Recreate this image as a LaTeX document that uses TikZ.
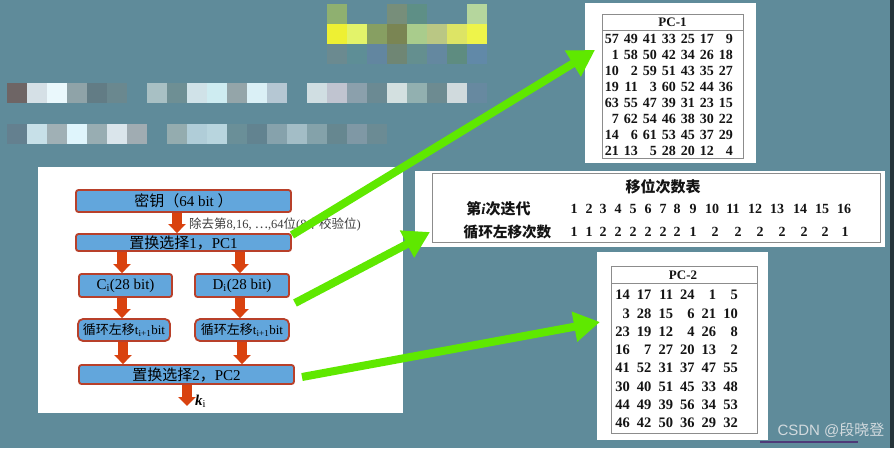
\documentclass[tikz,border=0pt]{standalone}
\usepackage{fontspec}
\setmainfont{Liberation Serif}
\newfontfamily\cjk{Noto Sans CJK SC}
\newfontfamily\wmsans{Liberation Sans}
\usetikzlibrary{arrows.meta,calc}
\definecolor{bg}{HTML}{5F8B9A}
\definecolor{boxfill}{HTML}{62A6DC}
\definecolor{boxdraw}{HTML}{B8402A}
\definecolor{redarr}{HTML}{D9420F}
\definecolor{grn}{HTML}{5FE800}
\definecolor{tblline}{HTML}{8C8C8C}
\definecolor{wm}{HTML}{D2DADE}
\definecolor{wmline}{HTML}{4E3A78}
\definecolor{darkedge}{HTML}{26343A}
\newcommand\mblk[3]{\definecolor{tmpc}{HTML}{#3}\fill[tmpc] (#1,#2) rectangle ++(20,20);}
\begin{document}
\begin{tikzpicture}[x=1pt,y=-1pt,
  flowbox/.style={draw=boxdraw, line width=1.8pt, fill=boxfill, rounded corners=2.5pt, inner sep=0pt,
    font=\fontsize{15}{18}\selectfont},
  shiftbox/.style={flowbox, rounded corners=5pt, font=\fontsize{13}{16}\selectfont},
  redarrow/.style={draw=redarr, line width=10pt, -{Triangle[width=17pt,length=9pt]}},
  greenarrow/.style={draw=grn, line width=8pt, -{Triangle[width=29pt,length=26pt]}},
  num/.style={inner sep=0pt, font=\fontsize{14}{16}\selectfont\bfseries, text=black!92},
  snum/.style={inner sep=0pt, font=\fontsize{14}{16}\selectfont\bfseries, text=black!92},
  hdr/.style={inner sep=0pt, font=\fontsize{13}{16}\selectfont\bfseries, text=black!92},
  cjklabel/.style={inner sep=0pt, font=\fontsize{15}{18}\selectfont\cjk\bfseries, text=black!92},
  panel/.style={fill=white, draw=none},
  tbl/.style={draw=tblline, line width=1pt}
]
\useasboundingbox (0,0) rectangle (894,448);
\fill[bg] (0,0) rectangle (894,448);
\fill[darkedge] (890,0) rectangle (894,448);

% mosaic blocks (redacted text)
\mblk{327}{4}{8FB070}\mblk{387}{4}{778E7A}\mblk{407}{4}{5E8F86}\mblk{467}{4}{B5D69D}
\mblk{327}{24}{EEF033}\mblk{347}{24}{E3F36A}\mblk{367}{24}{879F62}\mblk{387}{24}{7A8553}
\mblk{407}{24}{A9CC8C}\mblk{427}{24}{BAC784}\mblk{447}{24}{DDE465}\mblk{467}{24}{EEF44A}
\mblk{327}{44}{6B8A90}\mblk{347}{44}{5E8E96}\mblk{367}{44}{6286A0}\mblk{387}{44}{6F8674}
\mblk{407}{44}{648F8F}\mblk{427}{44}{6488A0}\mblk{447}{44}{5E8C80}\mblk{467}{44}{6189A8}
\mblk{7}{83}{6E6565}\mblk{27}{83}{D5E0E6}\mblk{47}{83}{EAF8FC}\mblk{67}{83}{8FA3A8}
\mblk{87}{83}{627C85}\mblk{107}{83}{6A888F}\mblk{147}{83}{A8C0C4}\mblk{167}{83}{6E8F94}
\mblk{187}{83}{D0E2E8}\mblk{207}{83}{CEECF1}\mblk{227}{83}{94A5A9}\mblk{247}{83}{DAF0F6}
\mblk{267}{83}{B5C7D3}\mblk{307}{83}{D0DEE2}\mblk{327}{83}{C0C4D0}\mblk{347}{83}{8BA0AC}
\mblk{367}{83}{6B8A93}\mblk{387}{83}{D3E0E0}\mblk{407}{83}{92B0B0}\mblk{427}{83}{6D8B91}
\mblk{447}{83}{D0DADD}\mblk{467}{83}{6789A0}
\mblk{7}{124}{64808F}\mblk{27}{124}{C7E0E8}\mblk{47}{124}{A0B0B5}\mblk{67}{124}{DFF5FC}
\mblk{87}{124}{98ADB2}\mblk{107}{124}{DAE5EB}\mblk{127}{124}{A0ACB2}\mblk{167}{124}{94ACAF}
\mblk{187}{124}{B0CDD8}\mblk{207}{124}{B8D5DE}\mblk{227}{124}{6A8F98}\mblk{247}{124}{628390}
\mblk{267}{124}{86A2AC}\mblk{287}{124}{A3BDC6}\mblk{307}{124}{84A2AA}\mblk{327}{124}{668790}
\mblk{347}{124}{7F98A5}\mblk{367}{124}{6B8B94}

% white panels
\fill[panel] (38,167) rectangle (403,413);
\fill[panel] (585,3) rectangle (756,163);
\fill[panel] (415,171) rectangle (885,247);
\fill[panel] (597,252) rectangle (768,440);

% flowchart
\node[flowbox, minimum width=215pt, minimum height=22pt] (key) at (183.5,201) {{\cjk 密钥（}64 bit {\cjk ）}};
\node[flowbox, minimum width=215pt, minimum height=17pt] (pc1) at (183.5,242.5) {{\cjk 置换选择}1{\cjk ，}PC1};
\node[flowbox, minimum width=93pt, minimum height=23pt] (cbox) at (125.5,285.5) {C\textsubscript{i}(28 bit)};
\node[flowbox, minimum width=94pt, minimum height=23pt] (dbox) at (242,285.5) {D\textsubscript{i}(28 bit)};
\node[shiftbox, minimum width=92pt, minimum height=22pt] (sl) at (124,330) {{\cjk 循环左移}t\textsubscript{i+1}bit};
\node[shiftbox, minimum width=94pt, minimum height=22pt] (sr) at (242,330) {{\cjk 循环左移}t\textsubscript{i+1}bit};
\node[flowbox, minimum width=215pt, minimum height=19pt] (pc2) at (186.5,374.5) {{\cjk 置换选择}2{\cjk ，}PC2};
\node[inner sep=0pt, anchor=west, font=\fontsize{15}{18}\selectfont] (ki) at (195,401) {\textbf{\textit{k}}\textsubscript{i}};
\node[inner sep=0pt, anchor=west, text=black!75, font=\fontsize{12.5}{15}\selectfont] (note) at (189,225)
  {{\cjk 除去第}8,16, {\cjk …},64{\cjk 位}(8{\cjk 个校验位})};

\coordinate (xa) at (177,0);
\coordinate (xl) at (122,0);
\coordinate (xr) at (240,0);
\coordinate (xl2) at (123,0);
\coordinate (xr2) at (242,0);
\coordinate (xk) at (187,0);
\coordinate (kend) at (187,406);
\draw[redarrow] (key.south -| xa) -- (pc1.north -| xa);
\draw[redarrow] (pc1.south -| xl) -- (cbox.north -| xl);
\draw[redarrow] (pc1.south -| xr) -- (dbox.north -| xr);
\draw[redarrow] (cbox.south -| xl) -- (sl.north -| xl);
\draw[redarrow] (dbox.south -| xr) -- (sr.north -| xr);
\draw[redarrow] (sl.south -| xl2) -- (pc2.north -| xl2);
\draw[redarrow] (sr.south -| xr2) -- (pc2.north -| xr2);
\draw[redarrow] (pc2.south -| xk) -- (kend);

% PC-1 table
\draw[tbl] (602,14) rectangle (743,158);
\draw[tbl] (602,30) -- (743,30);
\node[hdr] (pc1title) at (672.5,22.5) {PC-1};
\foreach \row [count=\r] in {
  {57,49,41,33,25,17,9},{1,58,50,42,34,26,18},{10,2,59,51,43,35,27},{19,11,3,60,52,44,36},
  {63,55,47,39,31,23,15},{7,62,54,46,38,30,22},{14,6,61,53,45,37,29},{21,13,5,28,20,12,4}}{
  \foreach \v [count=\c] in \row {
    \node[num, anchor=east] (pa-\r-\c) at ({619+19*(\c-1)},{39+16*(\r-1)}) {\v};
  }
}

% shift table
\draw[tbl] (432,173) rectangle (880,242);
\node[cjklabel] (stitle) at (663,187) {移位次数表};
\node[cjklabel] (slab1) at (498.5,209) {第{\fontspec{Liberation Serif}\itshape\bfseries i}次迭代};
\node[cjklabel, font=\fontsize{14.6}{18}\selectfont\cjk\bfseries] (slab2) at (507.5,232) {循环左移次数};
\foreach \xx/\v [count=\c] in {574/1,589/2,603/3,618/4,633/5,648/6,663/7,677/8,693/9,712/10,733/11,755/12,777/13,800/14,822/15,844/16}{
  \node[snum] (si-\c) at (\xx,209) {\v};
}
\foreach \xx/\v [count=\c] in {574/1,589/1,603/2,618/2,633/2,648/2,663/2,677/2,693/1,715/2,738/2,760/2,782/2,804/2,825/2,845/1}{
  \node[snum] (sn-\c) at (\xx,232) {\v};
}

% PC-2 table
\draw[tbl] (611,266) rectangle (757,433);
\draw[tbl] (611,283) -- (757,283);
\node[hdr] (pc2title) at (683,275) {PC-2};
\foreach \row [count=\r] in {
  {14,17,11,24,1,5},{3,28,15,6,21,10},{23,19,12,4,26,8},{16,7,27,20,13,2},
  {41,52,31,37,47,55},{30,40,51,45,33,48},{44,49,39,56,34,53},{46,42,50,36,29,32}}{
  \foreach \v [count=\c] in \row {
    \node[num, font=\fontsize{14.5}{16}\selectfont\bfseries, anchor=east] (pb-\r-\c) at ({630+21.6*(\c-1)},{295+18.3*(\r-1)}) {\v};
  }
}

% green arrows
\coordinate (g1s) at (292,235);
\coordinate (g1e) at (595,50);
\coordinate (g2s) at (295,303);
\coordinate (g2e) at (430,232);
\coordinate (g3s) at (302,377);
\coordinate (g3e) at (600,322);
\draw[greenarrow] (g1s) -- (g1e);
\draw[greenarrow] (g2s) -- (g2e);
\draw[greenarrow] (g3s) -- (g3e);

% watermark
\node[inner sep=0pt, text=wm, font=\fontsize{15}{18}\selectfont] (wmark) at (831,430) {{\wmsans CSDN @}{\cjk 段晓登}};
\coordinate (wl1) at (760,442);
\coordinate (wl2) at (858,442);
\draw[wmline, line width=1.5pt] (wl1) -- (wl2);
\end{tikzpicture}
\end{document}
